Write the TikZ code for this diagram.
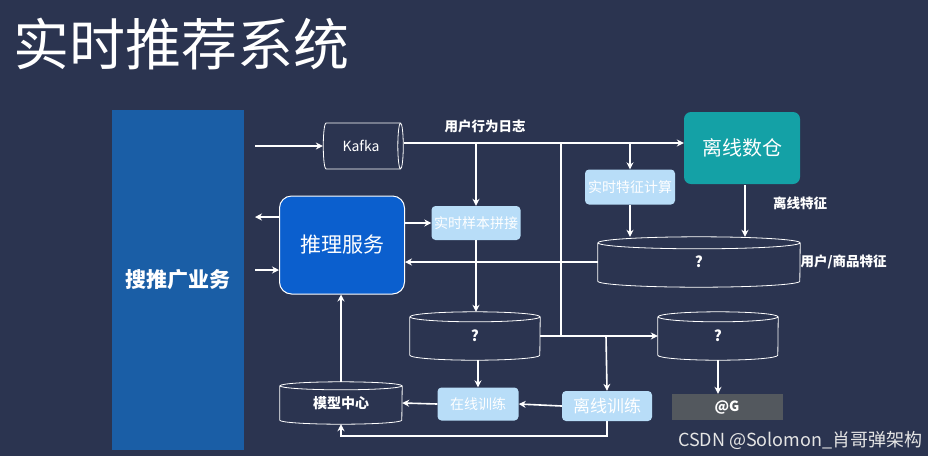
\documentclass[tikz,border=0pt]{standalone}
\usepackage{fontspec}
\setmainfont{Noto Sans CJK SC}
\usetikzlibrary{shapes.geometric,arrows.meta}
\definecolor{bg}{HTML}{2B3450}
\definecolor{barblue}{HTML}{1A5EA6}
\definecolor{infblue}{HTML}{0B5FCE}
\definecolor{teal1}{HTML}{14A1A6}
\definecolor{lblue}{HTML}{B8DDF8}
\definecolor{gbox}{HTML}{53585E}
\tikzset{
  ln/.style={draw=white,line width=1.6pt},
  ar/.style={ln,-{Stealth[length=7pt,width=7pt]}},
  lb/.style={fill=lblue,rounded corners=4pt,text=white,inner sep=0pt},
  cyl/.style={rectangle,text=white,inner sep=0pt,font=\fontsize{15}{17}\selectfont\bfseries},
  wt/.style={text=white}
}
\begin{document}
\begin{tikzpicture}[x=1pt,y=-1pt]
\fill[bg] (0,0) rectangle (928,456);
\useasboundingbox (0,0) rectangle (928,456);
\node[wt,anchor=west,font=\fontsize{56}{60}\selectfont] (title) at (10,44) {实时推荐系统};
\node[fill=barblue,minimum width=132pt,minimum height=340pt,inner sep=0pt,wt,font=\fontsize{21}{24}\selectfont\bfseries] (biz) at (178,280) {搜推广业务};
\node[cylinder,draw=white,line width=0.8pt,aspect=0.3,minimum width=46pt,minimum height=80pt,wt,font=\fontsize{14}{16}\selectfont] (kafka) at (361,146) {Kafka};
\coordinate (kin) at (255,146);
\draw[ar] (kin) -- (kafka.west);
\node[fill=teal1,rounded corners=7pt,minimum width=116pt,minimum height=72pt,wt,font=\fontsize{20}{24}\selectfont] (dw) at (742,148) {离线数仓};
\node[fill=infblue,draw=white,line width=1pt,rounded corners=12pt,minimum width=125pt,minimum height=98pt,wt,font=\fontsize{21}{25}\selectfont] (inf) at (342,245) {推理服务};
\node[lb,minimum width=89pt,minimum height=34pt,font=\fontsize{14}{16}\selectfont] (join) at (476,223) {实时样本拼接};
\node[lb,minimum width=90pt,minimum height=35pt,font=\fontsize{14}{16}\selectfont] (rtf) at (630,187) {实时特征计算};
\node[cyl,minimum width=202pt,minimum height=50pt] (feat) at (699,262) {?};
\node[cyl,minimum width=130pt,minimum height=48pt] (c1) at (475,336) {?};
\node[cyl,minimum width=120pt,minimum height=48pt] (c2) at (718,336) {?};
\node[cyl,minimum width=122pt,minimum height=42pt,font=\fontsize{14}{16}\selectfont\bfseries] (mc) at (341,403) {模型中心};
\foreach \n/\w/\r in {feat/101/6,c1/65/5,c2/60/5,mc/61/4}{
  \draw[white,line width=0.8pt]
    ([yshift=-\r pt]\n.north) ellipse[x radius=\w pt,y radius=\r pt]
    ([yshift=-\r pt]\n.north west) -- ([yshift=\r pt]\n.south west)
    arc[start angle=180,end angle=360,x radius=\w pt,y radius=\r pt]
    -- ([yshift=-\r pt]\n.north east);
}
\node[lb,minimum width=81pt,minimum height=33pt,font=\fontsize{14}{16}\selectfont] (on) at (478,404) {在线训练};
\node[lb,minimum width=90pt,minimum height=30pt,font=\fontsize{17}{19}\selectfont] (off) at (607,406) {离线训练};
\node[fill=gbox,minimum width=111pt,minimum height=26pt,wt,font=\fontsize{14}{16}\selectfont\bfseries] (g) at (727,407) {@G};
\node[wt,font=\fontsize{13.5}{15}\selectfont\bfseries] (l1) at (485,126) {用户行为日志};
\node[wt,font=\fontsize{13.5}{15}\selectfont\bfseries] (l2) at (800,203) {离线特征};
\node[wt,font=\fontsize{13.5}{15}\selectfont\bfseries,anchor=west] (l3) at (797,262) {用户/商品特征};
\node[text=white!80!gray,font=\fontsize{18}{20}\selectfont,anchor=east] (wm) at (926,440) {CSDN @Solomon\_肖哥弹架构};
\draw[ar] (kafka.east) ++(0,-3) coordinate (ke) -- (ke -| dw.west);
\draw[ar] (ke -| join.north) -- (join.north);
\draw[ar] (ke -| rtf.north) -- (rtf.north);
\draw[ar] (rtf.south) -- (rtf.south |- feat.north);
\coordinate (dwb) at (745,185);
\draw[ar] (dwb) -- (dwb |- feat.north);
\draw[ar] (feat.west) -- (feat.west -| inf.east);
\draw[ar] (inf.east |- join.west) -- (join.west);
\coordinate (o1) at (inf.west |- 0,217);
\draw[ar] (o1) -- (255,217);
\coordinate (o2) at (255,270);
\draw[ar] (o2) -- (o2 -| inf.west);
\draw[ar] (join.south) -- (join.south |- c1.north);
\draw[ln] (561,143) -- (561,336);
\draw[ar] (c1.east) -- (c2.west);
\draw[ar] (606,336) -- (off.north);
\draw[ar] (c1.south -| on.north) -- (on.north);
\draw[ar] (off.west) -- (on.east);
\draw[ar] (on.west) -- (mc.east);
\draw[ar] (mc.north) -- (mc.north |- inf.south);
\coordinate (b1) at (off.south |- 0,436);
\coordinate (b2) at (mc.south |- 0,436);
\draw[ar] (off.south) -- (b1) -- (b2) -- (mc.south);
\draw[ar] (c2.south) -- (g.north -| c2.south);
\end{tikzpicture}
\end{document}
